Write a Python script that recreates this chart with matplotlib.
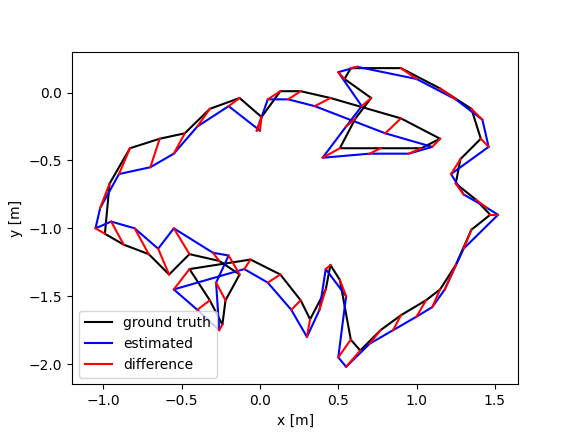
import numpy as np
import matplotlib
matplotlib.use("Agg")
import matplotlib.pyplot as plt

# ground truth trajectory [m]
gt_x = [0.01, -0.13, -0.32, -0.48, -0.64, -0.83, -0.96, -0.99, -0.87, -0.71,
        -0.58, -0.45, -0.26, -0.13, -0.22, -0.24, -0.32, -0.45, -0.06, 0.13,
        0.26, 0.32, 0.42, 0.45, 0.51, 0.58, 0.64, 0.77, 0.90, 1.06,
        1.15, 1.25, 1.35, 1.47, 1.38, 1.25, 1.28, 1.41, 1.35, 1.15,
        0.90, 0.58, 0.54, 0.71, 0.61, 0.51, 0.77, 1.03, 1.15, 0.90,
        0.45, 0.26, 0.13, 0.01]
gt_y = [-0.18, -0.04, -0.12, -0.30, -0.34, -0.41, -0.67, -1.04, -1.12, -1.19,
        -1.34, -1.19, -1.24, -1.34, -1.53, -1.71, -1.53, -1.30, -1.23, -1.34,
        -1.53, -1.67, -1.45, -1.27, -1.38, -1.82, -1.90, -1.75, -1.64, -1.53,
        -1.45, -1.27, -1.01, -0.90, -0.79, -0.67, -0.49, -0.34, -0.12, 0.03,
        0.18, 0.18, 0.10, -0.04, -0.19, -0.41, -0.41, -0.41, -0.34, -0.19,
        -0.04, 0.01, 0.01, -0.18]

# estimated trajectory [m]
est_x = [0.00, -0.20, -0.40, -0.55, -0.70, -0.90, -1.02, -1.05, -0.95, -0.80,
         -0.65, -0.55, -0.30, -0.20, -0.28, -0.26, -0.40, -0.55, -0.10, 0.05,
         0.20, 0.30, 0.38, 0.42, 0.55, 0.50, 0.55, 0.70, 0.85, 1.00,
         1.10, 1.18, 1.30, 1.52, 1.45, 1.30, 1.22, 1.46, 1.42, 1.25,
         1.00, 0.62, 0.50, 0.65, 0.55, 0.40, 0.70, 0.95, 1.10, 0.80,
         0.35, 0.18, 0.05, -0.02]
est_y = [-0.28, -0.10, -0.25, -0.45, -0.55, -0.60, -0.85, -1.00, -0.95, -1.00,
         -1.15, -1.00, -1.18, -1.20, -1.40, -1.75, -1.60, -1.45, -1.30, -1.40,
         -1.60, -1.80, -1.60, -1.30, -1.50, -1.95, -2.02, -1.85, -1.75, -1.65,
         -1.58, -1.45, -1.15, -0.90, -0.85, -0.75, -0.60, -0.40, -0.20, -0.05,
         0.10, 0.19, 0.15, -0.10, -0.25, -0.48, -0.45, -0.45, -0.40, -0.30,
         -0.10, -0.05, -0.05, -0.28]

fig = plt.figure(figsize=(5.76, 4.32), dpi=100)
ax = fig.add_subplot(111)
ax.plot(gt_x, gt_y, 'k', label='ground truth')
ax.plot(est_x, est_y, 'b', label='estimated')
for i in range(len(gt_x)):
    ax.plot([gt_x[i], est_x[i]], [gt_y[i], est_y[i]], 'r',
            label='difference' if i == 0 else None)
ax.set_xlim(-1.2, 1.65)
ax.set_ylim(-2.15, 0.3)
ax.set_xlabel('x [m]')
ax.set_ylabel('y [m]')
ax.legend(loc='lower left')
fig.savefig('out.png')
